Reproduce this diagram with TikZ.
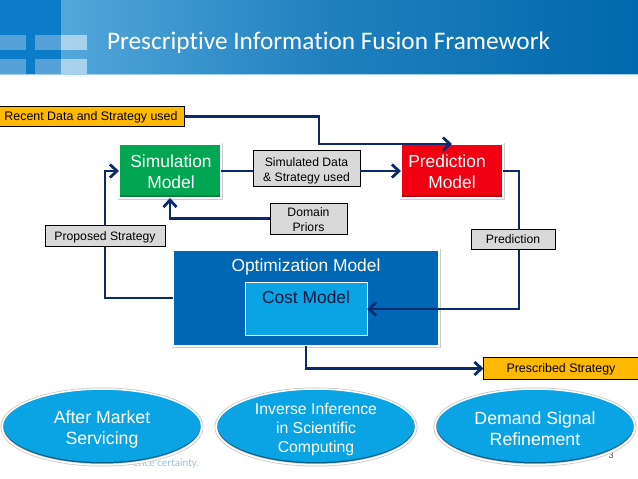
\documentclass[tikz,border=0pt]{standalone}
\usepackage{fontspec}
\setmainfont{Liberation Sans}
\newfontfamily\titlefont[Ligatures=NoCommon]{Carlito}
\usetikzlibrary{arrows.meta,shapes.geometric,calc}
\definecolor{navy}{HTML}{0B2A6B}
\definecolor{hdrL}{HTML}{5FB0E2}
\definecolor{hdrD}{HTML}{0068AC}
\definecolor{hdrP}{HTML}{0C7BC8}
\definecolor{orangeb}{HTML}{FFB900}
\definecolor{greyb}{HTML}{D9D9D9}
\definecolor{optb}{HTML}{0067B5}
\definecolor{skyb}{HTML}{0AA3E4}
\definecolor{simg}{HTML}{00A651}
\definecolor{simd}{HTML}{007F3E}
\definecolor{predr}{HTML}{F00010}
\definecolor{predd}{HTML}{B00010}
\tikzset{
  x=1pt,y=-1pt,
  every node/.style={inner sep=0pt,outer sep=0pt,align=center},
  link/.style={draw=navy,line width=2.4pt},
  arrowlink/.style={link,-{Straight Barb[length=7pt,width=13pt,line width=2.8pt]}},
  labelbox/.style={draw=black,line width=0.7pt,fill=greyb,text=black,font=\fontsize{12.2}{15}\selectfont},
  labeltext/.style={text=black,font=\fontsize{12.2}{15}\selectfont},
  oneline/.style={text height=9pt,text depth=1pt},
  orangebox/.style={draw=black,line width=0.7pt,fill=orangeb,text=black,font=\fontsize{12.4}{15}\selectfont,oneline},
  halo/.style={preaction={draw=gray!40,line width=3pt}},
  modelbox/.style={draw=white,line width=1.5pt,halo},
  modeltext/.style={text=white,font=\fontsize{17.4}{21}\selectfont},
  oval/.style={ellipse,draw=white,line width=1.5pt,minimum height=76pt,minimum width=200pt},
  ovaltext/.style={text=white,font=\fontsize{17.7}{21}\selectfont},
  ovalrim/.style={fill=black!30!skyb!85!black,draw=gray!45,line width=3pt},
  hsq/.style={fill=white,fill opacity=.3},
  hsl/.style={fill=white,fill opacity=.5},
}
\begin{document}
\begin{tikzpicture}
\useasboundingbox (0,0) rectangle (638,479);
\fill[white] (0,0) rectangle (638,479);
% header
\shade[left color=hdrL,right color=hdrD,middle color=hdrL!35!hdrD] (0,0) rectangle (638,74);
\fill[hdrL!60!white] (0,74) rectangle (638,75);
\fill[hdrP] (0,0) rectangle (61,74);
\fill[hsq] (0,35) rectangle (26,50);
\fill[hsq] (35,35) rectangle (61,50);
\fill[hsl] (61,35) rectangle (87,50);
\fill[hsq] (0,59) rectangle (26,74);
\fill[hsq] (35,59) rectangle (61,74);
\fill[hsl] (61,59) rectangle (87,74);
\node[anchor=base west,text=white,font=\titlefont\fontsize{25.3}{28}\selectfont] (title) at (107,49) {Prescriptive Information Fusion Framework};
% footer remnants
\node[anchor=base east,text=hdrD!40!white,font=\titlefont\fontsize{11}{13}\selectfont] (foot) at (199,466) {ence certainty.};
\node[anchor=base,text=black!70,font=\fontsize{9}{11}\selectfont] (pageno) at (611,458) {3};
% models
\node[modelbox,fill=optb,minimum width=266pt,minimum height=96pt] (opt) at (306,298) {};
\node[anchor=base,modeltext] (optt) at (306,271) {Optimization Model};
\node[draw=white,line width=0.7pt,fill=skyb,minimum width=122pt,minimum height=53pt] (cost) at (306,308.5) {};
\node[anchor=base,modeltext,text=navy!60!black] (costt) at (306,303) {Cost Model};
\node[modelbox,fill=simd,minimum width=102pt,minimum height=54pt] (sim) at (170,171) {};
\fill[simg] (120,145) rectangle (220,195);
\node[modeltext] (simt) at (171,172) {Simulation\\Model};
\node[modelbox,fill=predd,minimum width=102pt,minimum height=54pt] (pred) at (452,171) {};
\fill[predr] (402,145) rectangle (502,195);
\node[modeltext] (predt) at (447,172) {Prediction\\\hspace*{10pt}Model};
% label boxes
\node[orangebox,minimum width=186pt,minimum height=20.5pt] (recent) at (91,116.3) {Recent Data and Strategy used};
\node[labelbox,minimum width=107pt,minimum height=36pt] (simdt) at (306.5,168) {};
\node[labeltext] (simdl) at (306.5,170.5) {Simulated Data\\\& Strategy used};
\node[labelbox,minimum width=77pt,minimum height=31pt] (domain) at (308.5,218.5) {};
\node[labeltext] (domainl) at (308.5,220) {Domain\\Priors};
\node[labelbox,oneline,minimum width=120pt,minimum height=21pt] (prop) at (105,236) {Proposed Strategy};
\node[labelbox,oneline,minimum width=84pt,minimum height=20pt] (predl) at (513,239.5) {Prediction};
\node[orangebox,minimum width=155pt,minimum height=21.5pt,anchor=west] (presc) at (483.5,368.5) {Prescribed Strategy};
% ovals
\foreach \cx in {102,316,535}{
  \filldraw[ovalrim] (\cx,427) ellipse [x radius=100,y radius=38];
  \fill[skyb] (\cx,425.5) ellipse [x radius=98.5,y radius=36.5];
}
\node[oval] (o1) at (102,427) {};
\node[oval] (o2) at (316,427) {};
\node[oval] (o3) at (535,427) {};
\node[ovaltext] (o1t) at (102,429) {After Market\\Servicing};
\node[ovaltext,font=\fontsize{15.8}{19}\selectfont] (o2t) at (316,429) {Inverse Inference\\in Scientific\\Computing};
\node[ovaltext] (o3t) at (535,429) {Demand Signal\\Refinement};
% connectors
\coordinate (t1) at (319,144);
\draw[arrowlink] (recent.east) -- (t1|-recent.east) -- (t1) -- (pred.north);
\draw[link] (sim.east|-0,171) -- (simdt.west|-0,171);
\draw[arrowlink] (simdt.east|-0,171) -- (pred.west|-0,171);
\draw[arrowlink] (domain.west) -| (sim.south);
\draw[arrowlink] (prop.north) |- (sim.west);
\draw[link] (opt.west) -| (prop.south);
\coordinate (t2) at (519,171);
\draw[link] (pred.east) -- (t2) -- (t2|-predl.north);
\draw[arrowlink] (t2|-predl.south) |- (cost.east|-0,309);
\draw[arrowlink] (opt.south) |- (presc.west);
\end{tikzpicture}
\end{document}
